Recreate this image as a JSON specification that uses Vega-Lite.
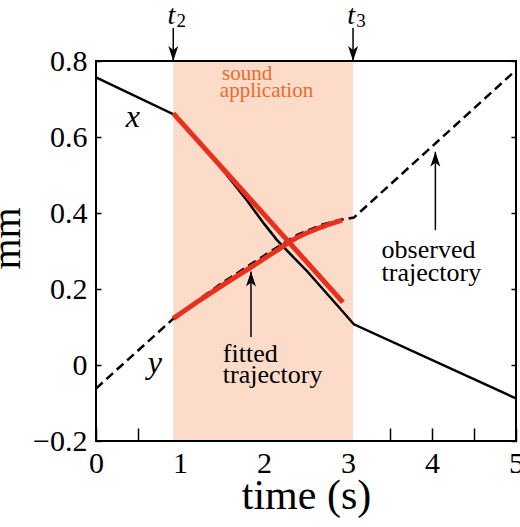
{
  "$schema": "https://vega.github.io/schema/vega-lite/v6.json",
  "width": 420,
  "height": 380,
  "autosize": {"type": "none"},
  "padding": {"left": 96, "top": 61, "right": 4, "bottom": 86},
  "config": {
    "view": {"stroke": "black", "strokeWidth": 2},
    "font": "Liberation Serif",
    "text": {"font": "Liberation Serif"},
    "axis": {
      "domain": false,
      "grid": false,
      "zindex": 1,
      "labelFont": "Liberation Serif",
      "titleFont": "Liberation Serif",
      "labelColor": "black",
      "titleColor": "black",
      "tickColor": "black",
      "tickWidth": 1.5,
      "labelFontSize": 30,
      "titleFontWeight": "normal"
    }
  },
  "datasets": {
    "lines": [
      {"series": "x", "t": 0, "v": 0.757},
      {"series": "x", "t": 0.92, "v": 0.66},
      {"series": "x", "t": 1.2, "v": 0.593},
      {"series": "x", "t": 1.5, "v": 0.516},
      {"series": "x", "t": 1.8, "v": 0.432},
      {"series": "x", "t": 2.0, "v": 0.372},
      {"series": "x", "t": 2.15, "v": 0.33},
      {"series": "x", "t": 2.3, "v": 0.295},
      {"series": "x", "t": 2.5, "v": 0.25},
      {"series": "x", "t": 2.7, "v": 0.2},
      {"series": "x", "t": 2.9, "v": 0.15},
      {"series": "x", "t": 3.07, "v": 0.107},
      {"series": "x", "t": 5, "v": -0.088},
      {"series": "y", "t": 0, "v": -0.062},
      {"series": "y", "t": 0.92, "v": 0.122},
      {"series": "y", "t": 1.2, "v": 0.168},
      {"series": "y", "t": 1.5, "v": 0.216},
      {"series": "y", "t": 1.85, "v": 0.266},
      {"series": "y", "t": 2.1, "v": 0.302},
      {"series": "y", "t": 2.4, "v": 0.343},
      {"series": "y", "t": 2.7, "v": 0.37},
      {"series": "y", "t": 2.93, "v": 0.383},
      {"series": "y", "t": 3.07, "v": 0.388},
      {"series": "y", "t": 5, "v": 0.776},
      {"series": "fitx", "t": 0.92, "v": 0.662},
      {"series": "fitx", "t": 2.94, "v": 0.165},
      {"series": "fity", "t": 0.92, "v": 0.122},
      {"series": "fity", "t": 1.2, "v": 0.165},
      {"series": "fity", "t": 1.5, "v": 0.209},
      {"series": "fity", "t": 1.85, "v": 0.258},
      {"series": "fity", "t": 2.1, "v": 0.294},
      {"series": "fity", "t": 2.4, "v": 0.336},
      {"series": "fity", "t": 2.7, "v": 0.364},
      {"series": "fity", "t": 2.93, "v": 0.381}
    ],
    "band": [{"t": 0.92, "end": 3.06}],
    "labels": [
      {"text": "sound", "t": 1.8, "v": 0.75, "kind": "orange"},
      {"text": "application", "t": 2.03, "v": 0.706, "kind": "orange"},
      {"text": "observed", "t": 3.4, "v": 0.281, "kind": "note"},
      {"text": "trajectory", "t": 3.4, "v": 0.222, "kind": "note"},
      {"text": "fitted", "t": 1.51, "v": 0.009, "kind": "note"},
      {"text": "trajectory", "t": 1.51, "v": -0.048, "kind": "note"},
      {"text": "x", "t": 0.44, "v": 0.627, "kind": "var"},
      {"text": "y", "t": 0.7, "v": -0.022, "kind": "var"},
      {"text": "t", "t": 0.92, "v": 0.897, "kind": "time"},
      {"text": "t", "t": 3.06, "v": 0.897, "kind": "time"},
      {"text": "2", "t": 0.92, "v": 0.897, "kind": "sub"},
      {"text": "3", "t": 3.06, "v": 0.897, "kind": "sub"}
    ],
    "arrows": [
      {"t": 0.92, "from": 0.887, "to": 0.8, "dir": "down"},
      {"t": 3.06, "from": 0.887, "to": 0.8, "dir": "down"},
      {"t": 4.04, "from": 0.355, "to": 0.561, "dir": "up"},
      {"t": 1.845, "from": 0.074, "to": 0.246, "dir": "up"}
    ]
  },
  "resolve": {"axis": {"y": "independent"}},
  "encoding": {
    "x": {
      "field": "t",
      "type": "quantitative",
      "scale": {"domain": [0, 5], "nice": false, "zero": false},
      "axis": {
        "orient": "bottom",
        "values": [0, 0.5, 1, 1.5, 2, 2.5, 3, 3.5, 4, 4.5, 5],
        "labelExpr": "datum.value % 1 === 0 ? format(datum.value, 'd') : ''",
        "tickSize": -13,
        "labelPadding": 20,
        "labelFlush": false,
        "labelOverlap": false,
        "title": "time (s)",
        "titleFontSize": 42,
        "titleBaseline": "alphabetic",
        "titleY": 67
      }
    }
  },
  "layer": [
    {
      "data": {"name": "band"},
      "mark": {"type": "rect", "color": "#fcdcc8", "yOffset": 1, "y2Offset": -1},
      "encoding": {
        "x2": {"field": "end"},
        "y": {"datum": 0.8, "type": "quantitative", "axis": null},
        "y2": {"datum": -0.2}
      }
    },
    {
      "data": {"name": "lines"},
      "transform": [{"filter": "datum.series === 'x'"}],
      "mark": {"type": "line", "color": "black", "strokeWidth": 2.5},
      "encoding": {
        "y": {
          "field": "v", "type": "quantitative",
          "scale": {"domain": [-0.2, 0.8], "nice": false, "zero": false},
          "axis": {
            "orient": "left",
            "values": [-0.2, 0, 0.2, 0.4, 0.6, 0.8],
            "labelExpr": "datum.value === 0 ? '0' : format(datum.value, '.1f')",
            "tickSize": -5,
            "labelPadding": 14,
            "labelFlush": false,
            "labelOverlap": false,
            "title": "mm",
            "titleFontSize": 40,
            "titleAngle": -90,
            "titleBaseline": "alphabetic",
            "titleAlign": "center",
            "titleX": -77,
            "titleY": 177
          }
        }
      }
    },
    {
      "data": {"name": "lines"},
      "transform": [{"filter": "datum.series === 'y'"}],
      "mark": {"type": "line", "color": "black", "strokeWidth": 2.5, "strokeDash": [9, 5]},
      "encoding": {
        "y": {
          "field": "v", "type": "quantitative",
          "axis": {
            "orient": "right",
            "values": [-0.2, 0, 0.2, 0.4, 0.6, 0.8],
            "tickSize": -5,
            "labels": false,
            "title": null
          }
        }
      }
    },
    {
      "data": {"name": "lines"},
      "transform": [{"filter": "datum.series === 'fitx' || datum.series === 'fity'"}],
      "mark": {"type": "line", "color": "#e8301f", "strokeWidth": 5, "strokeCap": "butt", "interpolate": "monotone"},
      "encoding": {
        "y": {"field": "v", "type": "quantitative", "axis": null},
        "detail": {"field": "series"}
      }
    },
    {
      "data": {"name": "arrows"},
      "mark": {"type": "rule", "color": "black", "strokeWidth": 1.5},
      "encoding": {
        "y": {"field": "from", "type": "quantitative", "axis": null},
        "y2": {"field": "to"}
      }
    },
    {
      "data": {"name": "arrows"},
      "transform": [{"filter": "datum.dir === 'down'"}],
      "mark": {"type": "point", "shape": "M0,0L-1,-3L0,-2.2L1,-3Z", "size": 100, "filled": true, "color": "black", "opacity": 1, "strokeWidth": 0},
      "encoding": {
        "y": {"field": "to", "type": "quantitative", "axis": null}
      }
    },
    {
      "data": {"name": "arrows"},
      "transform": [{"filter": "datum.dir === 'up'"}],
      "mark": {"type": "point", "shape": "M0,0L-1,3L0,2.2L1,3Z", "size": 100, "filled": true, "color": "black", "opacity": 1, "strokeWidth": 0},
      "encoding": {
        "y": {"field": "to", "type": "quantitative", "axis": null}
      }
    },
    {
      "data": {"name": "labels"},
      "transform": [{"filter": "datum.kind === 'orange'"}],
      "mark": {"type": "text", "font": "Liberation Serif", "color": "#ea6a2c", "fontSize": 21, "align": "center", "baseline": "alphabetic"},
      "encoding": {
        "y": {"field": "v", "type": "quantitative", "axis": null},
        "text": {"field": "text"}
      }
    },
    {
      "data": {"name": "labels"},
      "transform": [{"filter": "datum.kind === 'note'"}],
      "mark": {"type": "text", "font": "Liberation Serif", "color": "black", "fontSize": 26, "align": "left", "baseline": "alphabetic"},
      "encoding": {
        "y": {"field": "v", "type": "quantitative", "axis": null},
        "text": {"field": "text"}
      }
    },
    {
      "data": {"name": "labels"},
      "transform": [{"filter": "datum.kind === 'var'"}],
      "mark": {"type": "text", "font": "Liberation Serif", "color": "black", "fontSize": 32, "fontStyle": "italic", "align": "center", "baseline": "alphabetic"},
      "encoding": {
        "y": {"field": "v", "type": "quantitative", "axis": null},
        "text": {"field": "text"}
      }
    },
    {
      "data": {"name": "labels"},
      "transform": [{"filter": "datum.kind === 'time'"}],
      "mark": {"type": "text", "font": "Liberation Serif", "color": "black", "fontSize": 28, "fontStyle": "italic", "align": "center", "baseline": "alphabetic", "dx": -2},
      "encoding": {
        "y": {"field": "v", "type": "quantitative", "axis": null},
        "text": {"field": "text"}
      }
    },
    {
      "data": {"name": "labels"},
      "transform": [{"filter": "datum.kind === 'sub'"}],
      "mark": {"type": "text", "font": "Liberation Serif", "color": "black", "fontSize": 19, "align": "center", "baseline": "alphabetic", "dx": 8, "dy": 3},
      "encoding": {
        "y": {"field": "v", "type": "quantitative", "axis": null},
        "text": {"field": "text"}
      }
    }
  ]
}
